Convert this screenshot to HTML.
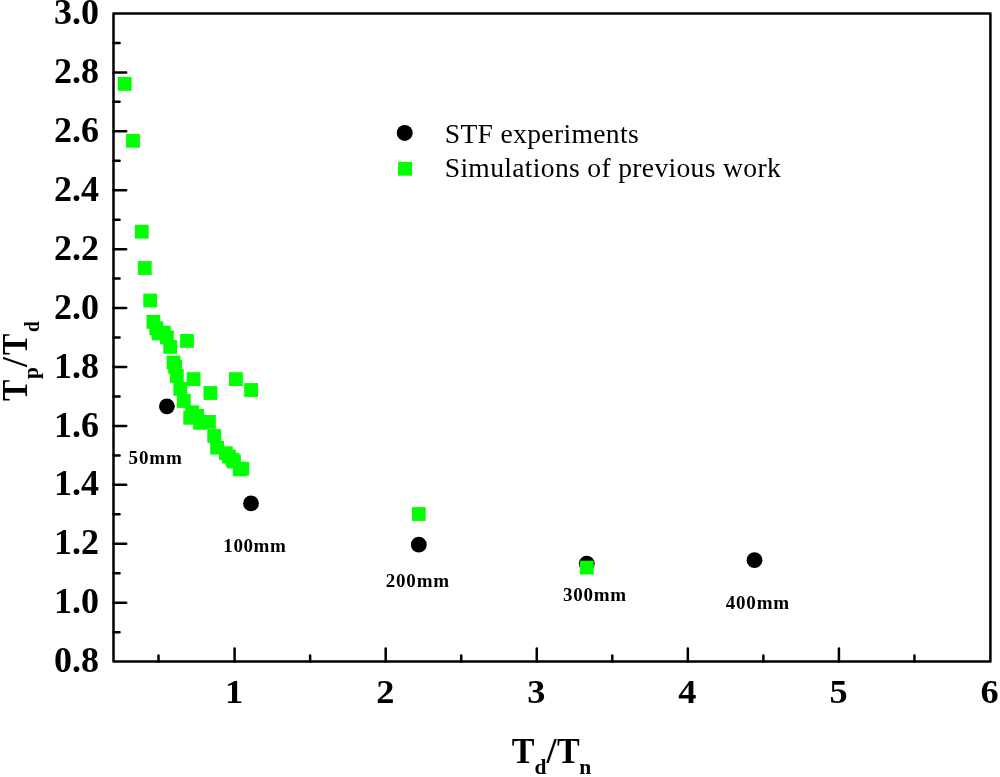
<!DOCTYPE html>
<html lang="en"><head><meta charset="utf-8"><title>Tp/Td vs Td/Tn</title>
<style>html,body{margin:0;padding:0;background:#fff;}svg{display:block;}text{font-family:"Liberation Serif","Times New Roman",serif;fill:#000;}.b{font-weight:bold;}</style></head><body>
<svg width="1000" height="777" viewBox="0 0 1000 777">
<rect width="1000" height="777" fill="#fff"/>
<g fill="none" stroke="#000" stroke-width="2.5" stroke-linecap="round" stroke-linejoin="round">
<rect x="113.5" y="13.4" width="876.9" height="648.2"/>
<path d="M113.5 632.14h6.1 M113.5 602.68h12.7 M113.5 573.22h6.1 M113.5 543.76h12.7 M113.5 514.30h6.1 M113.5 484.84h12.7 M113.5 455.38h6.1 M113.5 425.92h12.7 M113.5 396.46h6.1 M113.5 367.00h12.7 M113.5 337.54h6.1 M113.5 308.08h12.7 M113.5 278.62h6.1 M113.5 249.16h12.7 M113.5 219.70h6.1 M113.5 190.24h12.7 M113.5 160.78h6.1 M113.5 131.32h12.7 M113.5 101.86h6.1 M113.5 72.40h12.7 M113.5 42.94h6.1 M158.50 661.6v-6.1 M234.60 661.6v-13.0 M310.14 661.6v-6.1 M385.68 661.6v-13.0 M461.22 661.6v-6.1 M536.76 661.6v-13.0 M612.30 661.6v-6.1 M687.84 661.6v-13.0 M763.38 661.6v-6.1 M838.92 661.6v-13.0 M914.46 661.6v-6.1"/>
</g>
<g class="b" font-size="36" text-anchor="end">
<text x="98.9" y="672.2">0.8</text>
<text x="98.9" y="613.3">1.0</text>
<text x="98.9" y="554.4">1.2</text>
<text x="98.9" y="495.4">1.4</text>
<text x="98.9" y="436.5">1.6</text>
<text x="98.9" y="377.6">1.8</text>
<text x="98.9" y="318.7">2.0</text>
<text x="98.9" y="259.8">2.2</text>
<text x="98.9" y="200.8">2.4</text>
<text x="98.9" y="141.9">2.6</text>
<text x="98.9" y="83.0">2.8</text>
<text x="98.9" y="24.1">3.0</text>
</g>
<g class="b" font-size="34.3" text-anchor="middle">
<text transform="translate(234.2,702.7) scale(1.06,1)">1</text>
<text transform="translate(385.3,702.7) scale(1.06,1)">2</text>
<text transform="translate(536.4,702.7) scale(1.06,1)">3</text>
<text transform="translate(687.4,702.7) scale(1.06,1)">4</text>
<text transform="translate(838.5,702.7) scale(1.06,1)">5</text>
<text transform="translate(989.6,702.7) scale(1.06,1)">6</text>
</g>
<g fill="#000">
<circle cx="166.9" cy="406.3" r="7.9"/>
<circle cx="251.0" cy="503.4" r="7.9"/>
<circle cx="418.8" cy="544.7" r="7.9"/>
<circle cx="586.8" cy="563.6" r="7.9"/>
<circle cx="754.5" cy="560.2" r="7.9"/>
</g>
<g fill="#00ff00">
<rect x="117.8" y="77.0" width="13.8" height="13.8"/>
<rect x="126.1" y="133.9" width="13.8" height="13.8"/>
<rect x="134.9" y="224.8" width="13.8" height="13.8"/>
<rect x="137.9" y="261.1" width="13.8" height="13.8"/>
<rect x="143.3" y="293.6" width="13.8" height="13.8"/>
<rect x="146.5" y="315.0" width="13.8" height="13.8"/>
<rect x="149.4" y="321.4" width="13.8" height="13.8"/>
<rect x="151.6" y="326.6" width="13.8" height="13.8"/>
<rect x="156.9" y="325.8" width="13.8" height="13.8"/>
<rect x="160.0" y="330.5" width="13.8" height="13.8"/>
<rect x="163.3" y="340.0" width="13.8" height="13.8"/>
<rect x="180.1" y="334.0" width="13.8" height="13.8"/>
<rect x="166.6" y="355.6" width="13.8" height="13.8"/>
<rect x="168.2" y="359.9" width="13.8" height="13.8"/>
<rect x="169.9" y="369.1" width="13.8" height="13.8"/>
<rect x="186.7" y="372.2" width="13.8" height="13.8"/>
<rect x="229.0" y="372.2" width="13.8" height="13.8"/>
<rect x="173.4" y="382.0" width="13.8" height="13.8"/>
<rect x="244.2" y="383.1" width="13.8" height="13.8"/>
<rect x="203.5" y="386.1" width="13.8" height="13.8"/>
<rect x="176.9" y="394.1" width="13.8" height="13.8"/>
<rect x="185.2" y="405.4" width="13.8" height="13.8"/>
<rect x="183.3" y="410.9" width="13.8" height="13.8"/>
<rect x="190.3" y="409.0" width="13.8" height="13.8"/>
<rect x="202.0" y="415.0" width="13.8" height="13.8"/>
<rect x="193.2" y="415.9" width="13.8" height="13.8"/>
<rect x="207.3" y="429.1" width="13.8" height="13.8"/>
<rect x="210.2" y="440.8" width="13.8" height="13.8"/>
<rect x="218.9" y="446.3" width="13.8" height="13.8"/>
<rect x="222.1" y="449.7" width="13.8" height="13.8"/>
<rect x="225.6" y="452.8" width="13.8" height="13.8"/>
<rect x="227.1" y="454.7" width="13.8" height="13.8"/>
<rect x="232.7" y="462.5" width="13.8" height="13.8"/>
<rect x="235.4" y="461.8" width="13.8" height="13.8"/>
<rect x="411.9" y="507.1" width="13.8" height="13.8"/>
<rect x="579.9" y="560.7" width="13.8" height="13.8"/>
</g>
<g class="b" font-size="19">
<text x="128.6" y="464.4" textLength="53.3" lengthAdjust="spacing">50mm</text>
<text x="223.3" y="552.2" textLength="62.5" lengthAdjust="spacing">100mm</text>
<text x="385.8" y="586.9" textLength="63.3" lengthAdjust="spacing">200mm</text>
<text x="563.0" y="601.3" textLength="63.2" lengthAdjust="spacing">300mm</text>
<text x="725.8" y="608.8" textLength="63.3" lengthAdjust="spacing">400mm</text>
</g>
<circle cx="404.7" cy="132.9" r="8" fill="#000"/>
<rect x="398" y="161.9" width="14" height="13.8" fill="#00ff00"/>
<g font-size="27.6">
<text x="444.7" y="142.6" textLength="194" lengthAdjust="spacing">STF experiments</text>
<text x="444.7" y="177.1" textLength="336" lengthAdjust="spacing">Simulations of previous work</text>
</g>
<g class="b">
<text transform="translate(511.8,762.9) scale(0.945,1)" font-size="36">T</text>
<text transform="translate(534.6,774.2) scale(1.0,1)" font-size="21.5">d</text>
<text transform="translate(546.4,762.9) scale(1.0,1)" font-size="36">/</text>
<text transform="translate(557.0,762.9) scale(0.945,1)" font-size="36">T</text>
<text transform="translate(579.2,774.2) scale(1.0,1)" font-size="21.5">n</text>
</g>
<g class="b" transform="translate(27.1,400.9) rotate(-90)">
<text transform="translate(0,0) scale(0.88,1)" font-size="36.3">T</text>
<text transform="translate(22.0,11) scale(1.0,1)" font-size="21.5">p</text>
<text transform="translate(34.0,0) scale(1.0,1)" font-size="36">/</text>
<text transform="translate(45.9,0) scale(0.88,1)" font-size="36.3">T</text>
<text transform="translate(69.0,12) scale(0.9,1)" font-size="21.5">d</text>
</g>
</svg></body></html>
